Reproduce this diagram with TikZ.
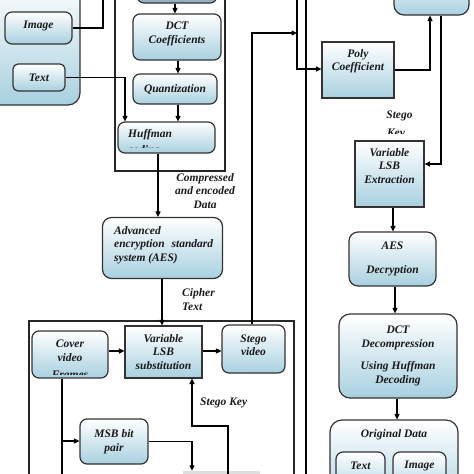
\documentclass[tikz,border=0pt]{standalone}
\usepackage{fontspec}
\setmainfont{Liberation Serif}
\usetikzlibrary{arrows.meta}
\definecolor{bblue}{RGB}{168,208,224}
\definecolor{dblue}{RGB}{112,142,158}
\definecolor{dblueb}{RGB}{150,180,196}
\definecolor{lgray}{RGB}{222,222,222}
\begin{document}
\begin{tikzpicture}[x=1pt,y=-1pt,
  lbl/.style={font=\fontsize{11.5}{13.5}\selectfont\bfseries\itshape, align=center, inner sep=0pt, text=black!90},
  rbox/.style={draw=black!80, line width=1.2pt, rounded corners=7pt, top color=white, bottom color=bblue, inner sep=0pt},
  sbox/.style={draw=black!80, line width=1.1pt, top color=white, bottom color=bblue, inner sep=0pt},
  frame/.style={draw=black!85, line width=1.1pt, inner sep=0pt},
  conn/.style={draw=black, line width=1.1pt},
  arr/.style={conn, -{Triangle[length=5.5pt,width=5pt]}},
]
\useasboundingbox (0,0) rectangle (474,474);
\clip (0,0) rectangle (474,474);

% containers
\node[rbox, rounded corners=12pt, minimum width=95pt, minimum height=125pt] (leftc) at (32.5,42.5) {};
\node[frame, minimum width=110pt, minimum height=180pt] (midc) at (170,81) {};
\node[frame, minimum width=265pt, minimum height=169pt] (botc) at (161.5,405.5) {};
\node[rbox, rounded corners=12pt, minimum width=128pt, minimum height=90pt] (orig) at (394,465) {};

% left column
\node[rbox, minimum width=67pt, minimum height=32pt] (image) at (38.5,28) {};
\node[lbl] (imagel) at (38.5,25.5) {Image};
\node[rbox, rounded corners=5pt, minimum width=52pt, minimum height=27pt, lbl] (text) at (39,77.5) {Text};

\node[draw=black!80, line width=1.2pt, rounded corners=7pt, top color=dblue, bottom color=dblueb, minimum width=80pt, minimum height=33pt] (topbox) at (177,-13.5) {};
\node[rbox, minimum width=88pt, minimum height=46pt] (dct) at (177,37) {};
\node[lbl] (dctl) at (177,34) {DCT\\Coefficients};
\node[rbox, minimum width=84pt, minimum height=30pt, lbl] (quant) at (175,89) {Quantization};
\node[rbox, minimum width=97pt, minimum height=31pt] (huff) at (166.5,137.5) {};
\node[lbl, anchor=west] (huffl) at (128,135) {Huffman};
\begin{scope}
\clip (118,120) rectangle (215,147.5);
\node[lbl, anchor=west] (huffc) at (128,151) {coding};
\end{scope}

\node[lbl] (cmpl) at (205,191) {Compressed\\and encoded\\Data};
\node[rbox, rounded corners=9pt, minimum width=120pt, minimum height=61pt] (aes) at (162.5,248) {};
\node[lbl, anchor=west, align=left] (aesl) at (114,245) {Advanced\\encryption\hspace{7pt}standard\\system (AES)};
\node[lbl, anchor=west, align=left] (cipl) at (182,299.5) {Cipher\\Text};

% bottom container
\node[rbox, minimum width=76pt, minimum height=47pt] (cover) at (70,354.5) {};
\node[lbl] (coverl) at (70,350.5) {Cover\\video};
\begin{scope}
\clip (32,360) rectangle (108,374);
\node[lbl] (coverf) at (70,374.5) {Frames};
\end{scope}
\node[sbox, minimum width=77pt, minimum height=52pt, lbl] (vlsb) at (163.5,352) {Variable\\LSB\\substitution};
\node[rbox, minimum width=63pt, minimum height=48pt] (stego) at (253.5,349) {};
\node[lbl] (stegol) at (253.5,345) {Stego\\video};
\node[lbl, anchor=west] (skl) at (200,403) {Stego Key};
\node[rbox, minimum width=68pt, minimum height=45pt, lbl] (msb) at (114,441.5) {MSB bit\\pair};
\node[fill=lgray, minimum width=77pt, minimum height=20pt, inner sep=0pt] (botbox) at (221.5,481) {};

% right column
\node[rbox, rounded corners=10pt, minimum width=75pt, minimum height=45pt] (trbox) at (431.5,-7.5) {};
\node[sbox, minimum width=72pt, minimum height=56pt] (poly) at (358,70) {};
\node[lbl] (polyl) at (358,61) {Poly\\Coefficient};
\node[lbl] (skr) at (399.5,116) {Stego};
\begin{scope}
\clip (380,120) rectangle (420,133);
\node[lbl] (skrk) at (396,134) {Key};
\end{scope}
\node[sbox, minimum width=69pt, minimum height=66pt] (vlsbe) at (389.5,174) {};
\node[lbl] (vlsbel) at (389.5,166) {Variable\\LSB\\Extraction};
\node[rbox, rounded corners=9pt, minimum width=87pt, minimum height=54pt, lbl] (aesd) at (392.5,259) {AES\\[10pt]Decryption};
\node[rbox, rounded corners=11pt, minimum width=118pt, minimum height=84pt, lbl] (dctd) at (398,356) {DCT\\Decompression\\[9pt]Using Huffman\\Decoding};
\node[lbl] (origl) at (394,435) {Original Data};
\node[rbox, minimum width=49pt, minimum height=44pt] (otext) at (360.5,474) {};
\node[lbl] (otextl) at (360.5,466) {Text};
\node[rbox, minimum width=53pt, minimum height=44pt] (oimage) at (419.5,474) {};
\node[lbl] (oimagel) at (419.5,466) {Image};

% coordinates
\coordinate (c1) at (103,-5);
\coordinate (c2) at (297,-5);
\coordinate (c3) at (306,-5);
\coordinate (c4) at (306,480);
\coordinate (c5) at (62,480);
\coordinate (c6) at (228,480);
\coordinate (j1) at (62,441);

% connectors
\draw[conn] (image.east |- 0,28) -| (c1);
\draw[arr] (text.east) -| (huff.north -| 125,0);
\draw[arr] (topbox.south -| 175,0) -- (dct.north -| 175,0);
\draw[arr] (dct.south -| 178,0) -- (quant.north -| 178,0);
\draw[arr] (quant.south -| 178,0) -- (huff.north -| 178,0);
\draw[arr] (huff.south -| 158,0) -- (aes.north -| 158,0);
\draw[arr] (aes.south -| 162,0) -- (vlsb.north -| 162,0);
\draw[arr] (cover.east |- 0,351) -- (vlsb.west |- 0,351);
\draw[arr] (vlsb.east |- 0,351) -- (stego.west |- 0,351);
\draw[arr] (stego.north -| 252,0) -- (252,33) -- (297,33);
\draw[arr] (c2) -- (297,69) -- (poly.west |- 0,69);
\draw[conn] (c3) -- (c4);
\draw[arr] (poly.east) -| (trbox.south -| 430,0);
\draw[arr] (trbox.south -| 441,0) |- (vlsbe.east |- 0,164);
\draw[arr] (vlsbe.south -| 393,0) -- (aesd.north -| 393,0);
\draw[arr] (aesd.south -| 395,0) -- (dctd.north -| 395,0);
\draw[arr] (dctd.south -| 397,0) -- (orig.north -| 397,0);
\draw[conn] (cover.south -| 62,0) -- (c5);
\draw[arr] (j1) -- (msb.west |- j1);
\draw[arr] (msb.east) -| (botbox.north -| 192,0);
\draw[arr] (c6) -- (228,426) -- (192,426) -- (vlsb.south -| 192,0);
\end{tikzpicture}
\end{document}
